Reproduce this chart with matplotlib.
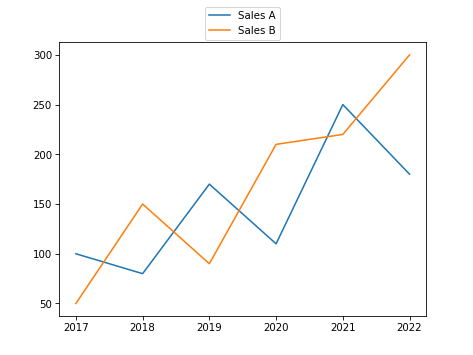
import matplotlib
matplotlib.use('Agg')
import matplotlib.pyplot as plt

years = [2017, 2018, 2019, 2020, 2021, 2022]
sales_a = [100, 80, 170, 110, 250, 180]
sales_b = [50, 150, 90, 210, 220, 300]

fig, ax = plt.subplots(figsize=(6.4, 4.8), dpi=74)
ax.plot(years, sales_a, label='Sales A')
ax.plot(years, sales_b, label='Sales B')
ax.legend(loc='upper center', bbox_to_anchor=(0.5, 1.15))

plt.savefig('out.png', dpi=74)
